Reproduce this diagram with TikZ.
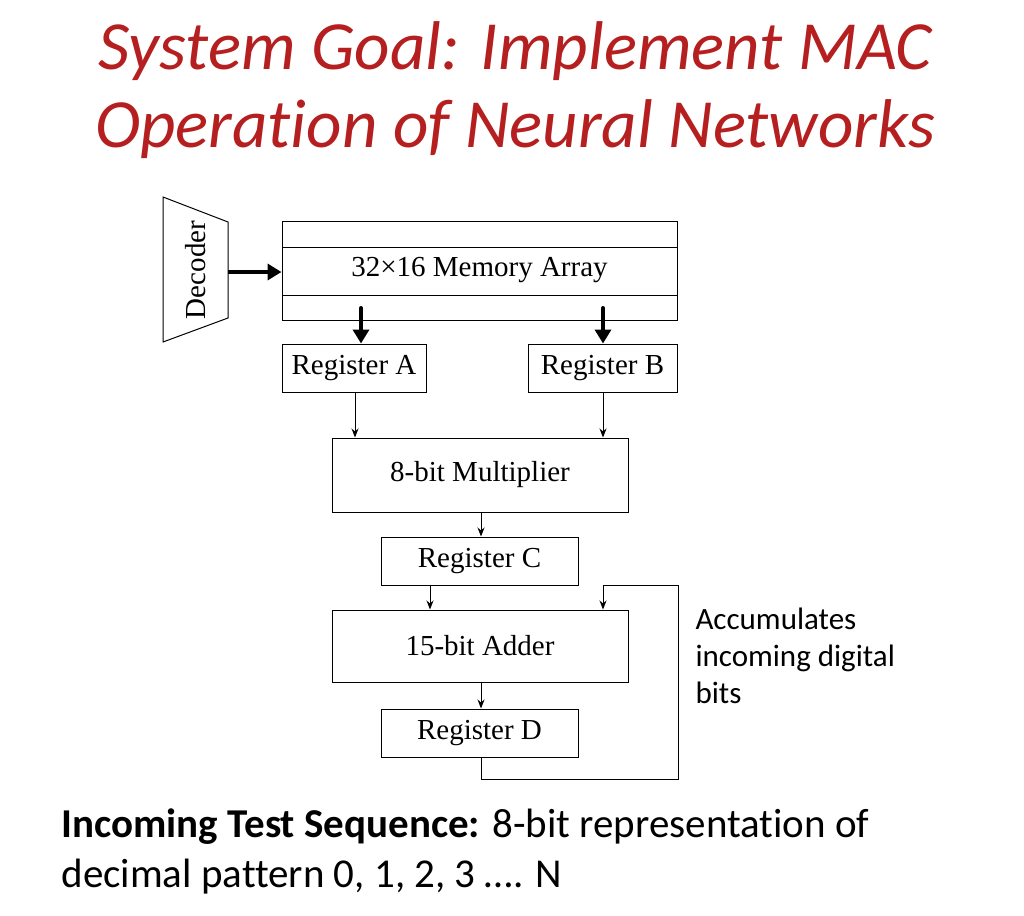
\documentclass[tikz,border=0pt]{standalone}
\usepackage{fontspec}
\setmainfont{Liberation Serif}
\newfontfamily\carl[Ligatures=NoCommon]{Carlito}
\usetikzlibrary{arrows.meta}
\definecolor{tred}{HTML}{B51F1F}
\begin{document}
\begin{tikzpicture}[x=1pt,y=-1pt,
 box/.style={draw,line width=1pt,inner sep=0pt,font=\fontsize{29}{32}\selectfont},
 thin/.style={line width=1pt,-{Stealth[length=9pt,width=7pt]}},
 thick/.style={line width=4pt,-{Triangle[length=14pt,width=16pt]}}]
\useasboundingbox (0,0) rectangle (1024,915);
\node[font=\carl\itshape\fontsize{69}{78}\selectfont,text=tred,align=center] (title) at (515,90) {System Goal: Implement MAC\\Operation of Neural Networks};
\draw[line width=1pt] (163,197) -- (228,222) -- (228,318) -- (163,342) -- cycle;
\node[rotate=90,font=\fontsize{29}{32}\selectfont] (dec) at (196,270) {Decoder};
\coordinate (decout) at (228,272);
\node[box,minimum width=395pt,minimum height=99pt] (mem) at (479.5,270.5) {32×16 Memory Array};
\draw[line width=1pt] (282,247) -- (677,247) (282,295) -- (677,295);
\node[box,minimum width=144pt,minimum height=48pt] (ra) at (354,368) {Register A};
\node[box,minimum width=149pt,minimum height=48pt] (rb) at (602.5,368) {Register B};
\node[box,minimum width=296pt,minimum height=74pt] (mul) at (480,475) {8-bit Multiplier};
\node[box,minimum width=197pt,minimum height=48pt] (rc) at (479.5,561) {Register C};
\node[box,minimum width=296pt,minimum height=72pt] (add) at (480,646) {15-bit Adder};
\node[box,minimum width=197pt,minimum height=48pt] (rd) at (479.5,733) {Register D};
\draw[thick] (decout) -- (mem.west|-decout);
\draw[line width=4pt,line cap=round] (361,308) -- (361,322);
\draw[line width=4pt,line cap=round] (603,308) -- (603,322);
\draw[thick] (361,320) -- (ra.north-|361,0);
\draw[thick] (603,320) -- (rb.north-|603,0);
\draw[thin] (ra.south-|355,0) -- (mul.north-|355,0);
\draw[thin] (rb.south-|603,0) -- (mul.north-|603,0);
\draw[thin] (mul.south-|481,0) -- (rc.north-|481,0);
\draw[thin] (rc.south-|430,0) -- (add.north-|430,0);
\draw[thin] (add.south-|481,0) -- (rd.north-|481,0);
\draw[thin] (rd.south-|481,0) -- (481,779) -- (678,779) -- (678,585) -- (603,585) -- (add.north-|603,0);
\node[font=\carl\fontsize{31}{37}\selectfont,align=left,anchor=north west] (acc) at (692,604) {Accumulates\\incoming digital\\bits};
\node[font=\carl\fontsize{41}{50}\selectfont,align=left,anchor=north west] (seq) at (58,805) {\textbf{Incoming Test Sequence:} 8-bit representation of\\decimal pattern 0, 1, 2, 3 …. N};
\end{tikzpicture}
\end{document}
